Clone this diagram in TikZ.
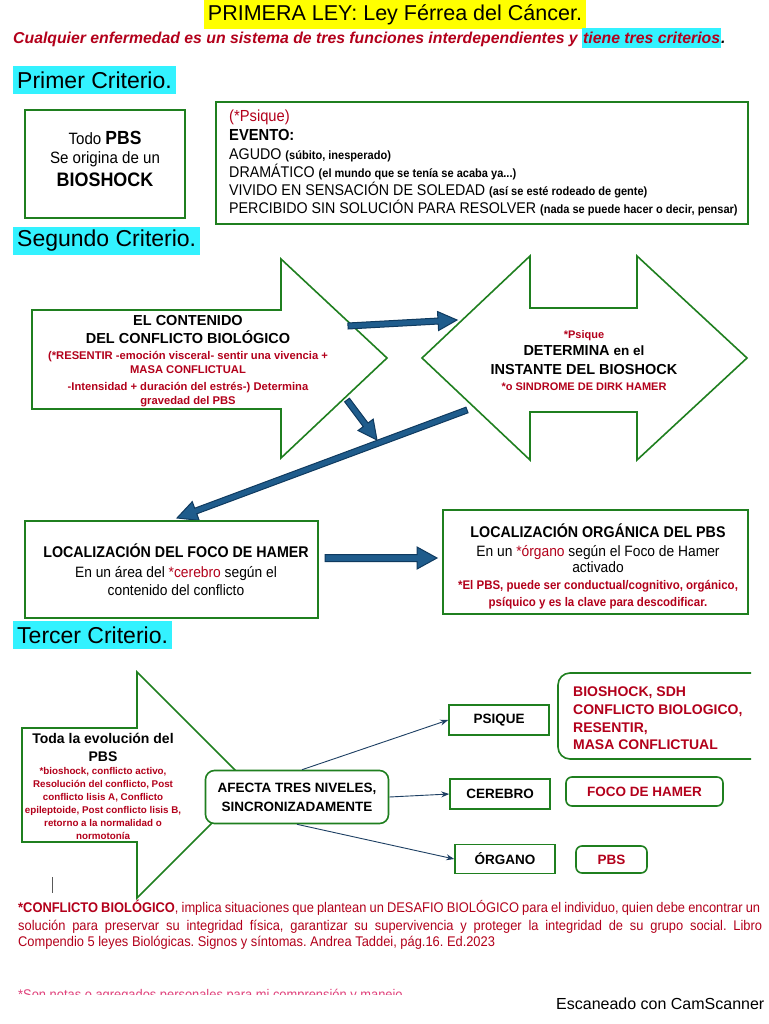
\documentclass[tikz,border=0pt]{standalone}
\usepackage{fontspec}
\setmainfont{Liberation Sans}
\newfontfamily\nar[FakeStretch=0.92]{Liberation Sans}
\usetikzlibrary{arrows.meta,calc}
\definecolor{gbord}{HTML}{1F7F1F}
\definecolor{dred}{HTML}{B3001B}
\definecolor{cyanhl}{HTML}{33F2FF}
\definecolor{yel}{HTML}{FFFF00}
\definecolor{barrow}{HTML}{1F5C8C}
\definecolor{barrowd}{HTML}{0F3A5F}
\definecolor{navyln}{HTML}{1D3F63}
\definecolor{pinkt}{HTML}{E0407A}
\setlength\fboxsep{1pt}
\frenchspacing
\newcommand\fatarr[5]{%
  \path ($(#2)!#5!(#1)$) coordinate (fah);
  \filldraw[fill=barrow,draw=barrowd,line width=1pt,line join=miter]
   ($(#1)!#3!90:(#2)$) -- ($(fah)!#3!90:(#2)$) -- ($(fah)!#4!90:(#2)$) -- (#2)
   -- ($(fah)!#4!-90:(#2)$) -- ($(fah)!#3!-90:(#2)$) -- ($(#1)!#3!-90:(#2)$) -- cycle;}
\newcommand\parsm[1]{{\bfseries\fontsize{12}{12}\selectfont #1}}
\begin{document}
\begin{tikzpicture}[x=1pt,y=-1pt,
  gbox/.style={draw=gbord,line width=1.6pt,fill=white},
  rbox/.style={gbox,rounded corners=9pt},
  hl/.style={fill=cyanhl,inner xsep=4pt,inner ysep=0pt,minimum height=28pt,anchor=west,font=\fontsize{23}{23}\selectfont},
  txt/.style={inner sep=0pt,anchor=base},
  ltxt/.style={inner sep=0pt,anchor=base west},
  hdr/.style={txt,font=\bfseries\fontsize{14.5}{14.5}\selectfont},
  nhdr/.style={txt,font=\nar\bfseries\fontsize{15.5}{15.5}\selectfont},
  nreg/.style={txt,font=\nar\fontsize{15}{15}\selectfont},
  rsm/.style={txt,text=dred,font=\bfseries\fontsize{11.2}{11.2}\selectfont},
  thinarr/.style={draw=navyln,line width=0.9pt,-{Stealth[length=8pt,width=6pt]}},
]
\useasboundingbox (0,0) rectangle (768,1024);
\fill[white] (0,0) rectangle (768,1024);

% title
\node[fill=yel,inner xsep=4pt,inner ysep=0pt,minimum height=29pt,font=\fontsize{21.5}{21.5}\selectfont] (title) at (395,14.5) {PRIMERA LEY: Ley Férrea del Cáncer.};
\node[ltxt,font=\bfseries\itshape\fontsize{15.8}{16}\selectfont,text=dred] (sub) at (13,44)
 {Cualquier enfermedad es un sistema de tres funciones interdependientes y \colorbox{cyanhl}{\rule[-3pt]{0pt}{18pt}tiene tres criterios}{\color{black}.}};

% primer criterio
\node[hl] (c1) at (13,80.5) {Primer Criterio.};
\node[gbox,minimum width=160pt,minimum height=108pt] (b1) at (105,164) {};
\node[nreg,font=\nar\fontsize{16.4}{16.4}\selectfont] (b1a) at (105,145) {Todo {\bfseries\fontsize{19}{19}\selectfont PBS}};
\node[nreg,font=\nar\fontsize{16.4}{16.4}\selectfont] (b1b) at (105,164) {Se origina de un};
\node[txt,font=\nar\bfseries\fontsize{19.5}{19.5}\selectfont] (b1c) at (105,187) {BIOSHOCK};

\node[gbox,minimum width=532pt,minimum height=122pt] (b2) at (482,163) {};
\begin{scope}[every node/.style={ltxt,font=\nar\fontsize{15.5}{15.5}\selectfont}]
\node[text=dred,font=\nar\fontsize{16}{16}\selectfont] (b2a) at (229,122) {(*Psique)};
\node[font=\nar\bfseries\fontsize{16}{16}\selectfont] (b2b) at (229,141) {EVENTO:};
\node (b2c) at (229,160) {AGUDO \parsm{(súbito, inesperado)}};
\node (b2d) at (229,178) {DRAMÁTICO \parsm{(el mundo que se tenía se acaba ya...)}};
\node (b2e) at (229,196) {VIVIDO EN SENSACIÓN DE SOLEDAD \parsm{(así se esté rodeado de gente)}};
\node (b2f) at (229,214) {PERCIBIDO SIN SOLUCIÓN PARA RESOLVER \parsm{(nada se puede hacer o decir, pensar)}};
\end{scope}

% segundo criterio
\node[hl] (c2) at (13,241) {Segundo Criterio.};
\draw[gbox] (32,310) -- (281,310) -- (281,259) -- (387,358) -- (281,458) -- (281,409) -- (32,409) -- cycle;
\node[hdr] (s1a) at (188,325) {EL CONTENIDO};
\node[hdr] (s1b) at (188,343) {DEL CONFLICTO BIOLÓGICO};
\node[rsm] (s1c) at (188,359) {(*RESENTIR -emoción visceral- sentir una vivencia +};
\node[rsm] (s1d) at (188,373) {MASA CONFLICTUAL};
\node[rsm] (s1e) at (188,390) {-Intensidad + duración del estrés-) Determina};
\node[rsm] (s1f) at (188,404) {gravedad del PBS};

\draw[gbox] (422,358) -- (530,256) -- (530,308) -- (637,308) -- (637,256) -- (747,358) -- (637,460) -- (637,412) -- (530,412) -- (530,460) -- cycle;
\node[rsm,font=\bfseries\fontsize{11}{11}\selectfont] (s2a) at (584,338) {*Psique};
\node[hdr] (s2b) at (584,355) {DETERMINA {\fontsize{13.5}{14}\selectfont en el}};
\node[hdr] (s2c) at (584,374) {INSTANTE DEL BIOSHOCK};
\node[rsm,font=\bfseries\fontsize{11}{11}\selectfont] (s2d) at (584,390) {*o SINDROME DE DIRK HAMER};

\coordinate (aA1) at (348,326); \coordinate (aA2) at (457,320);
\coordinate (aB1) at (347,400); \coordinate (aB2) at (377,440);
\coordinate (aC1) at (467,410); \coordinate (aC2) at (177,518);
\fatarr{aA1}{aA2}{3pt}{9.5pt}{19pt}
\fatarr{aB1}{aB2}{3pt}{9.5pt}{19pt}
\fatarr{aC1}{aC2}{3pt}{10pt}{20pt}

\node[gbox,minimum width=293pt,minimum height=97pt] (b3) at (171.5,569.5) {};
\node[nhdr] (b3a) at (176,557) {LOCALIZACIÓN DEL FOCO DE HAMER};
\node[nreg] (b3b) at (176,577) {En un área del \textcolor{dred}{*cerebro} según el};
\node[nreg] (b3c) at (176,595) {contenido del conflicto};

\node[gbox,minimum width=305pt,minimum height=104pt] (b4) at (595.5,562) {};
\node[nhdr] (b4a) at (598,537) {LOCALIZACIÓN ORGÁNICA DEL PBS};
\node[nreg] (b4b) at (598,556) {En un \textcolor{dred}{*órgano} según el Foco de Hamer};
\node[nreg] (b4c) at (598,572) {activado};
\node[txt,text=dred,font=\nar\bfseries\fontsize{12.5}{12.5}\selectfont] (b4d) at (598,589) {*El PBS, puede ser conductual/cognitivo, orgánico,};
\node[txt,text=dred,font=\nar\bfseries\fontsize{12.5}{12.5}\selectfont] (b4e) at (598,606) {psíquico y es la clave para descodificar.};

\coordinate (aD1) at (325,558); \coordinate (aD2) at (437,558);
\fatarr{aD1}{aD2}{3.5pt}{11pt}{20pt}

% tercer criterio
\node[hl] (c3) at (13,635) {Tercer Criterio.};
\draw[gbox] (22,728) -- (137,728) -- (137,672) -- (250,785) -- (137,898) -- (137,842) -- (22,842) -- cycle;
\node[hdr,font=\bfseries\fontsize{14}{14}\selectfont] (t1a) at (103,743) {Toda la evolución del};
\node[hdr,font=\bfseries\fontsize{14}{14}\selectfont] (t1b) at (103,761) {PBS};
\begin{scope}[every node/.style={rsm,font=\bfseries\fontsize{9.8}{10}\selectfont}]
\node (t1c) at (103,774) {*bioshock, conflicto activo,};
\node (t1d) at (103,787) {Resolución del conflicto, Post};
\node (t1e) at (103,800) {conflicto lisis A, Conflicto};
\node (t1f) at (103,813) {epileptoide, Post conflicto lisis B,};
\node (t1g) at (103,826) {retorno a la normalidad o};
\node (t1h) at (103,839) {normotonía};
\end{scope}
\draw[gray!70!black,line width=1pt] (52,877) -- (52,893);

\node[rbox,minimum width=183pt,minimum height=53pt,align=center,font=\bfseries\fontsize{13.5}{19}\selectfont] (af) at (297,797) {AFECTA TRES NIVELES,\\SINCRONIZADAMENTE};

\node[gbox,minimum width=100pt,minimum height=30pt,font=\bfseries\fontsize{13.5}{14}\selectfont] (psq) at (499,720) {PSIQUE};
\node[gbox,minimum width=100pt,minimum height=30pt,font=\bfseries\fontsize{13.5}{14}\selectfont] (cer) at (500,794) {CEREBRO};
\node[gbox,minimum width=100pt,minimum height=29pt,font=\bfseries\fontsize{13.5}{14}\selectfont] (org) at (505,859) {ÓRGANO};

\draw[thinarr] (af.north) ++(5,0) coordinate (afn) (afn) -- (psq.west);
\draw[thinarr] (af.east) -- (cer.west);
\draw[thinarr] (af.south) -- (org.west);

\begin{scope}
\clip (0,0) rectangle (751,1024);
\draw[rbox,rounded corners=12pt] (558,673) rectangle (766,759);
\end{scope}
\begin{scope}[every node/.style={ltxt,text=dred,font=\bfseries\fontsize{14}{14}\selectfont}]
\node (r1a) at (573,696) {BIOSHOCK, SDH};
\node (r1b) at (573,714) {CONFLICTO BIOLOGICO,};
\node (r1c) at (573,732) {RESENTIR,};
\node (r1d) at (573,749) {MASA CONFLICTUAL};
\end{scope}
\node[rbox,rounded corners=6pt,minimum width=157pt,minimum height=29pt,text=dred,font=\bfseries\fontsize{13.5}{14}\selectfont] (foco) at (644.5,791.5) {FOCO DE HAMER};
\node[rbox,rounded corners=6pt,minimum width=71pt,minimum height=27pt,text=dred,font=\bfseries\fontsize{13.5}{14}\selectfont] (pbs) at (611.5,859.5) {PBS};

% footer
\begin{scope}[every node/.style={ltxt,text=dred,font=\nar\fontsize{14}{14}\selectfont}]
\node (f1) at (18,912) {\makebox[742pt][s]{{\bfseries *CONFLICTO BIOLÓGICO}, implica situaciones que plantean un DESAFIO BIOLÓGICO para el individuo, quien debe encontrar un}};
\node (f2) at (18,930) {\makebox[744pt][s]{solución para preservar su integridad física, garantizar su supervivencia y proteger la integridad de su grupo social. Libro}};
\node (f3) at (18,946) {Compendio 5 leyes Biológicas. Signos y síntomas. Andrea Taddei, pág.16. Ed.2023};
\end{scope}
\begin{scope}
\clip (0,980) rectangle (768,994.5);
\node[ltxt,text=pinkt,font=\nar\fontsize{14}{14}\selectfont] (f4) at (18,999) {*Son notas o agregados personales para mi comprensión y manejo};
\end{scope}
\node[ltxt,font=\fontsize{16}{16}\selectfont] (cs) at (556,1009) {Escaneado con CamScanner};
\end{tikzpicture}
\end{document}
